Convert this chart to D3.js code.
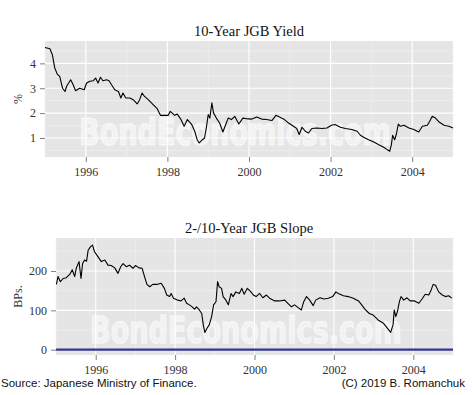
<!DOCTYPE html>
<html>
<head>
<meta charset="utf-8">
<script src="https://cdn.jsdelivr.net/npm/d3@7"></script>
<style>
  body { margin: 0; background: #fff; }
  svg { display: block; }
</style>
</head>
<body>
<svg id="chart" width="474" height="395"></svg>
<script>
// 10-year JGB yield (%); time as decimal year
var yieldDates = [1995.00, 1995.05, 1995.12, 1995.18, 1995.24, 1995.30, 1995.36, 1995.43, 1995.49, 1995.53,
  1995.63, 1995.69, 1995.75, 1995.85, 1995.96, 1996.02, 1996.10, 1996.18, 1996.24, 1996.30,
  1996.36, 1996.42, 1996.51, 1996.57, 1996.63, 1996.71, 1996.80, 1996.86, 1996.91, 1996.98,
  1997.08, 1997.16, 1997.26, 1997.32, 1997.38, 1997.44, 1997.53, 1997.65, 1997.75, 1997.83,
  1997.91, 1998.02, 1998.07, 1998.18, 1998.24, 1998.32, 1998.41, 1998.49, 1998.59, 1998.67,
  1998.73, 1998.78, 1998.86, 1998.91, 1998.96, 1999.00, 1999.04, 1999.09, 1999.13, 1999.20,
  1999.28, 1999.36, 1999.43, 1999.49, 1999.57, 1999.65, 1999.75, 1999.85, 1999.92, 2000.07,
  2000.19, 2000.31, 2000.43, 2000.56, 2000.66, 2000.76, 2000.87, 2000.97, 2001.09, 2001.17,
  2001.23, 2001.30, 2001.38, 2001.46, 2001.54, 2001.66, 2001.79, 2001.91, 2002.02, 2002.11,
  2002.24, 2002.36, 2002.52, 2002.65, 2002.73, 2002.81, 2002.93, 2003.06, 2003.18, 2003.30,
  2003.39, 2003.45, 2003.49, 2003.52, 2003.57, 2003.61, 2003.66, 2003.71, 2003.80, 2003.92,
  2004.04, 2004.16, 2004.25, 2004.37, 2004.43, 2004.49, 2004.57, 2004.66, 2004.78, 2004.90,
  2005.00];
var yieldValues = [4.64, 4.62, 4.59, 4.35, 3.81, 3.57, 3.48, 3.00, 2.87, 3.08,
  3.34, 3.14, 2.90, 3.00, 2.94, 3.21, 3.28, 3.30, 3.41, 3.21,
  3.44, 3.30, 3.34, 3.30, 3.14, 2.94, 2.87, 2.61, 2.81, 2.61,
  2.61, 2.54, 2.37, 2.54, 2.81, 2.67, 2.54, 2.34, 2.18, 1.91,
  1.91, 1.91, 2.07, 1.91, 1.96, 1.78, 1.47, 1.74, 1.56, 1.27,
  0.93, 0.80, 0.93, 1.00, 1.47, 1.94, 1.80, 2.41, 2.01, 1.80,
  1.60, 1.24, 1.54, 1.80, 1.74, 1.87, 1.56, 1.80, 1.78, 1.76,
  1.84, 1.76, 1.74, 1.70, 1.91, 1.83, 1.74, 1.60, 1.47, 1.38,
  1.14, 1.43, 1.27, 1.20, 1.38, 1.40, 1.38, 1.40, 1.51, 1.54,
  1.43, 1.38, 1.34, 1.27, 1.11, 1.03, 0.93, 0.84, 0.73, 0.63,
  0.53, 0.47, 0.73, 1.11, 0.93, 1.14, 1.56, 1.47, 1.51, 1.40,
  1.34, 1.24, 1.47, 1.51, 1.67, 1.87, 1.80, 1.64, 1.51, 1.47,
  1.40];

// 2-/10-year slope (bp)
var slopeDates = [1995.01, 1995.05, 1995.11, 1995.18, 1995.26, 1995.35, 1995.41, 1995.47, 1995.51, 1995.58,
  1995.63, 1995.67, 1995.72, 1995.77, 1995.81, 1995.87, 1995.92, 1995.97, 1996.06, 1996.14,
  1996.23, 1996.31, 1996.39, 1996.48, 1996.56, 1996.63, 1996.69, 1996.77, 1996.85, 1996.94,
  1997.00, 1997.09, 1997.17, 1997.23, 1997.29, 1997.36, 1997.44, 1997.54, 1997.65, 1997.73,
  1997.79, 1997.86, 1997.90, 1997.96, 1998.07, 1998.15, 1998.23, 1998.29, 1998.36, 1998.43,
  1998.49, 1998.54, 1998.61, 1998.67, 1998.71, 1998.75, 1998.80, 1998.86, 1998.92, 1998.97,
  1999.03, 1999.07, 1999.11, 1999.17, 1999.21, 1999.28, 1999.34, 1999.41, 1999.46, 1999.53,
  1999.62, 1999.68, 1999.74, 1999.82, 1999.91, 1999.97, 2000.04, 2000.13, 2000.21, 2000.30,
  2000.38, 2000.51, 2000.63, 2000.76, 2000.84, 2000.93, 2001.01, 2001.10, 2001.18, 2001.24,
  2001.31, 2001.39, 2001.48, 2001.54, 2001.65, 2001.75, 2001.86, 2001.97, 2002.05, 2002.11,
  2002.24, 2002.36, 2002.49, 2002.62, 2002.70, 2002.78, 2002.89, 2002.99, 2003.12, 2003.25,
  2003.35, 2003.43, 2003.49, 2003.52, 2003.56, 2003.60, 2003.65, 2003.69, 2003.76, 2003.84,
  2003.92, 2004.03, 2004.14, 2004.22, 2004.30, 2004.39, 2004.45, 2004.50, 2004.56, 2004.64,
  2004.73, 2004.81, 2004.89, 2004.97];
var slopeValues = [166, 186, 173, 181, 183, 192, 203, 186, 207, 224,
  181, 219, 228, 225, 253, 262, 266, 249, 236, 224,
  228, 215, 214, 208, 194, 211, 219, 211, 215, 207,
  214, 208, 207, 186, 166, 160, 166, 166, 169, 156,
  139, 135, 143, 131, 126, 124, 131, 118, 114, 109,
  103, 109, 101, 92, 63, 44, 54, 63, 84, 114,
  122, 173, 160, 156, 135, 126, 114, 143, 135, 147,
  143, 156, 141, 156, 147, 139, 135, 143, 132, 139,
  131, 124, 124, 126, 118, 109, 114, 107, 101, 122,
  135, 126, 112, 126, 132, 129, 131, 135, 147, 143,
  137, 135, 131, 124, 114, 103, 92, 88, 75, 67,
  54, 44, 63, 101, 84, 97, 122, 135, 126, 132,
  124, 124, 118, 129, 141, 139, 152, 166, 164, 147,
  139, 135, 137, 131];

var xMajor = [1996, 1998, 2000, 2002, 2004];
var xMinor = [1995, 1997, 1999, 2001, 2003, 2005];
var yieldTicks = [1, 2, 3, 4];
var yieldMinor = [0.5, 1.5, 2.5, 3.5, 4.5];
var slopeTicks = [0, 100, 200];
var slopeMinor = [50, 150, 250];

var svg = d3.select("#chart");
var serif = "'Liberation Serif', 'Times New Roman', serif";
var sans = "'Liberation Sans', Arial, sans-serif";

function drawPanel(cfg) {

    var x = d3.scaleLinear().domain([1995, 2005]).range([cfg.left, 453]);
    var y = d3.scaleLinear().domain(cfg.domain).range([cfg.bottom, cfg.top]);

    var g = svg.append("g");

    g.append("rect")
        .attr("x", cfg.left).attr("y", cfg.top)
        .attr("width", 453 - cfg.left).attr("height", cfg.bottom - cfg.top)
        .attr("fill", "#e5e5e5");

    // minor grid
    g.selectAll(".vminor").data(xMinor).enter().append("line")
        .attr("x1", function(d) { return x(d); }).attr("x2", function(d) { return x(d); })
        .attr("y1", cfg.top).attr("y2", cfg.bottom)
        .attr("stroke", "#f2f2f2").attr("stroke-width", 0.6);
    g.selectAll(".hminor").data(cfg.minor).enter().append("line")
        .attr("x1", cfg.left).attr("x2", 453)
        .attr("y1", function(d) { return y(d); }).attr("y2", function(d) { return y(d); })
        .attr("stroke", "#f2f2f2").attr("stroke-width", 0.6);

    // major grid
    g.selectAll(".vmajor").data(xMajor).enter().append("line")
        .attr("x1", function(d) { return x(d); }).attr("x2", function(d) { return x(d); })
        .attr("y1", cfg.top).attr("y2", cfg.bottom)
        .attr("stroke", "#fff").attr("stroke-width", 1.1);
    g.selectAll(".hmajor").data(cfg.ticks).enter().append("line")
        .attr("x1", cfg.left).attr("x2", 453)
        .attr("y1", function(d) { return y(d); }).attr("y2", function(d) { return y(d); })
        .attr("stroke", "#fff").attr("stroke-width", 1.1);

    // watermark, squeezed horizontally to the width it has in the original
    var wm = g.append("text")
        .attr("x", 0).attr("y", 0)
        .attr("font-family", "'DejaVu Sans Condensed', 'Liberation Sans Narrow', sans-serif")
        .attr("font-weight", "bold").attr("font-size", 38)
        .attr("fill", "#ffffff").attr("fill-opacity", 0.5)
        .attr("stroke", "#ffffff").attr("stroke-opacity", 0.5).attr("stroke-width", 1.5)
        .text("BondEconomics.com");
    var sx = cfg.wmW / wm.node().getComputedTextLength();
    wm.attr("transform", "translate(" + cfg.wmX + "," + cfg.wmY + ") scale(" + sx + ",1)");

    if (cfg.hline !== undefined) {
        g.append("line")
            .attr("x1", cfg.left).attr("x2", 453)
            .attr("y1", y(cfg.hline)).attr("y2", y(cfg.hline))
            .attr("stroke", "#35358f").attr("stroke-width", 2.2);
    }

    var line = d3.line()
        .x(function(d) { return x(d[0]); })
        .y(function(d) { return y(d[1]); });

    g.append("path")
        .datum(d3.zip(cfg.dates, cfg.values))
        .attr("d", line)
        .attr("fill", "none")
        .attr("stroke", "#000")
        .attr("stroke-width", 1.1)
        .attr("stroke-linejoin", "round");

    // axes
    var xAxis = g.append("g")
        .attr("transform", "translate(0," + cfg.bottom + ")")
        .call(d3.axisBottom(x).tickValues(xMajor).tickFormat(d3.format("d")).tickSize(5).tickPadding(5));
    var yAxis = g.append("g")
        .attr("transform", "translate(" + cfg.left + ",0)")
        .call(d3.axisLeft(y).tickValues(cfg.ticks).tickFormat(d3.format("d")).tickSize(5).tickPadding(4));

    [xAxis, yAxis].forEach(function(a) {
        a.select(".domain").remove();
        a.selectAll(".tick line").attr("stroke", "#7f7f7f");
        a.selectAll("text")
            .attr("font-family", serif).attr("font-size", 12).attr("fill", "#333");
    });

    g.append("text")
        .attr("x", 249).attr("y", cfg.top - 5)
        .attr("text-anchor", "middle")
        .attr("font-family", serif).attr("font-size", 14.5).attr("fill", "#111")
        .text(cfg.title);

    g.append("text")
        .attr("transform", "translate(" + cfg.labX + "," + ((cfg.top + cfg.bottom) / 2) + ") rotate(-90)")
        .attr("text-anchor", "middle")
        .attr("font-family", serif).attr("font-size", 12).attr("fill", "#333")
        .text(cfg.ylab);
}

drawPanel({
    title: "10-Year JGB Yield", ylab: "%", labX: 22,
    left: 45, top: 41, bottom: 157,
    domain: [0.235, 4.9],
    ticks: yieldTicks, minor: yieldMinor,
    dates: yieldDates, values: yieldValues,
    wmX: 79, wmY: 145, wmW: 312
});

drawPanel({
    title: "2-/10-Year JGB Slope", ylab: "BPs.", labX: 22,
    left: 56, top: 238, bottom: 355,
    domain: [-13.5, 284],
    ticks: slopeTicks, minor: slopeMinor,
    dates: slopeDates, values: slopeValues, hline: 0,
    wmX: 90, wmY: 343, wmW: 312
});

svg.append("text")
    .attr("x", 1).attr("y", 387)
    .attr("font-family", sans).attr("font-size", 11.5).attr("fill", "#111")
    .text("Source: Japanese Ministry of Finance.");

svg.append("text")
    .attr("x", 465).attr("y", 387)
    .attr("text-anchor", "end")
    .attr("font-family", sans).attr("font-size", 11.5).attr("fill", "#111")
    .text("(C) 2019 B. Romanchuk");
</script>
</body>
</html>
